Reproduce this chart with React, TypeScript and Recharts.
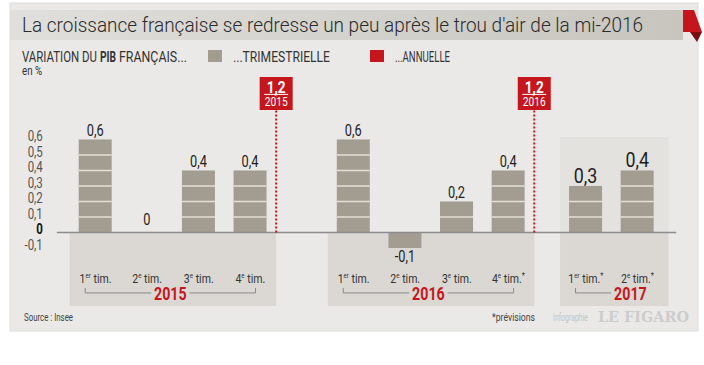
import React from 'react';
import { BarChart, Bar, XAxis, YAxis, ReferenceLine, ReferenceArea, LabelList } from 'recharts';

// ---------- data ----------
const YEARS = ['2015', '2016', '2017'];
const QUARTER_NUMS = [['1', '2', '3', '4'], ['1', '2', '3', '4'], ['1', '2']];
const QUARTERLY_GROWTH = [[0.6, 0, 0.4, 0.4], [0.6, -0.1, 0.2, 0.4], [0.3, 0.4]];
const FORECAST = [[false, false, false, false], [false, false, false, true], [true, true]];
const ANNUAL_YEARS = ['2015', '2016'];
const ANNUAL_GROWTH = [1.2, 1.2];
const Y_TICKS = [-0.1, 0, 0.1, 0.2, 0.3, 0.4, 0.5, 0.6];

// ---------- layout / style ----------
const YEAR_START = [0, 10, 19];
const STEP = 2;
const REGION_PAD_RIGHT = [1, 1, 1.2];
const YEAR_LABEL_ANCHOR = ['middle', 'middle', 'end'];
const BRACKET_RIGHT = [0.2, 0.2, 0.36];
const FONT = "Roboto,'Liberation Sans',sans-serif";
const RED = '#c5161d';
const BAR = '#a39d91';
const STRIPE = '#e4e0d7';
const PANEL = '#eae9e7';
const REGION = '#dbd8d4';
const REGION_TOP = '#e3e2df';

const fmt = (v: number) => String(v).replace('.', ',');

type Row = { pos: number; value: number; year: string; yi: number; q: string; forecast: boolean };
const table: Row[] = [];
YEARS.forEach((yr, yi) => {
  QUARTERLY_GROWTH[yi].forEach((v, qi) => {
    table.push({ pos: YEAR_START[yi] + qi * STEP, value: v, year: yr, yi, q: QUARTER_NUMS[yi][qi], forecast: FORECAST[yi][qi] });
  });
});
const yearFirst = (yi: number) => YEAR_START[yi];
const yearLast = (yi: number) => YEAR_START[yi] + (QUARTERLY_GROWTH[yi].length - 1) * STEP;

// condensed text helper
const CT = ({ x, y, sx = 0.8, anchor = 'start', children, ...rest }: any) => (
  <text transform={`translate(${x},${y}) scale(${sx},1)`} textAnchor={anchor} fontFamily={FONT} {...rest}>
    {children}
  </text>
);

const StripedBar = (props: any) => {
  const { x, y, width, height, payload } = props;
  const top = Math.min(y, y + height);
  const h = Math.abs(height);
  const v = payload.value;
  const n = Math.round(Math.abs(v) * 10);
  const lines: any[] = [];
  if (v > 0) {
    for (let i = 1; i < n; i++) {
      const ly = top + h - (h / n) * i;
      lines.push(<line key={i} x1={x} x2={x + width} y1={ly} y2={ly} stroke={STRIPE} strokeWidth={1.6} />);
    }
  }
  return (
    <g>
      <rect x={x} y={top} width={width} height={h} fill={BAR} />
      {lines}
    </g>
  );
};

const ValueLabel = (props: any) => {
  const vb = props.viewBox || props;
  const { x, y, width, height } = vb;
  const row = table[props.index];
  if (!row) return null;
  const big = row.yi === 2;
  const cx = x + width / 2;
  const top = Math.min(y, y + height);
  const bottom = Math.max(y, y + height);
  const ly = row.value < 0 ? bottom + 14 : top - (row.value === 0 ? 7 : 3);
  return (
    <CT x={cx} y={ly} sx={big ? 0.85 : 0.8} anchor="middle" fontSize={big ? 21 : 16} fill="#1e1e1e">
      {fmt(row.value)}
    </CT>
  );
};

const QuarterTick = (props: any) => {
  const { x, y, payload } = props;
  const row = table.find((r) => r.pos === payload.value);
  if (!row) return null;
  return (
    <CT x={x} y={y - 27} sx={0.78} anchor="middle" fontSize={13.5} fill="#333">
      <tspan>{row.q}</tspan>
      <tspan fontSize={8} dy={-5}>{row.q === '1' ? 'er' : 'e'}</tspan>
      <tspan dy={5}>{' tim.'}</tspan>
      {row.forecast ? <tspan fontSize={9.5} dy={-4}>*</tspan> : null}
    </CT>
  );
};

const YTick = (props: any) => {
  const { x, y, payload } = props;
  const v = payload.value;
  return (
    <CT x={x} y={y + 2} sx={0.82} anchor="end" fontSize={14}
      fill={v === 0 ? '#111' : '#555'} fontWeight={v === 0 ? 700 : 400}>
      {fmt(v)}
    </CT>
  );
};

const annualMarker = (p: any, i: number) => {
  const vb = p.viewBox || p;
  const x = vb.x;
  const y = vb.y;
  return (
    <g>
      <rect x={x - 16.5} y={y - 33} width={33} height={33} fill={RED} />
      <CT x={x} y={y - 17.5} sx={0.8} anchor="middle" fontWeight={700} fontSize={17} fill="#fff">
        {fmt(ANNUAL_GROWTH[i])}
      </CT>
      <line x1={x - 12} x2={x + 12} y1={y - 15.6} y2={y - 15.6} stroke="#fff" strokeWidth={1} />
      <CT x={x} y={y - 4} sx={0.85} anchor="middle" fontSize={12} fill="#fff">
        {ANNUAL_YEARS[i]}
      </CT>
    </g>
  );
};

const yearLabel = (p: any, yi: number) => {
  const vb = p.viewBox || p;
  const anchor = YEAR_LABEL_ANCHOR[yi];
  const tx = anchor === 'end' ? vb.x + vb.width : vb.x + vb.width / 2;
  return (
    <CT x={tx} y={vb.y + 7.5} sx={0.75} anchor={anchor} fontWeight={700} fontSize={19}
      fill={RED} stroke={REGION} strokeWidth={9} paintOrder="stroke">
      {YEARS[yi]}
    </CT>
  );
};

const Y_BOTTOM = -0.475;
const BRACKET_Y = -0.39;
const BRACKET_TICK = -0.358;

export default function App() {
  return (
    <div style={{ position: 'relative', width: 704, height: 365, background: '#fff', overflow: 'hidden' }}>
      <style>{`body{margin:0}`}</style>
      <svg width={704} height={365} style={{ position: 'absolute', left: 0, top: 0 }}>
        <defs>
          <linearGradient id="band" x1="0" x2="1" y1="0" y2="0">
            <stop offset="0" stopColor="#e0dfdb" />
            <stop offset="1" stopColor="#c7c5be" />
          </linearGradient>
        </defs>
        <rect x={10} y={3} width={688} height={328} fill={PANEL} stroke="#dedede" />
        <rect x={10} y={10} width={673} height={30} fill="url(#band)" />
        <polygon points="683,10 694,10 702,32 683,32" fill={RED} />
        <polygon points="690,32 702,32 697,42" fill="#7c0d12" />
        <text x={22} y={32} fontFamily={FONT} fontWeight={300} fontSize={20.5} fill="#2a2a2a" textLength={621} lengthAdjust="spacingAndGlyphs">
          La croissance française se redresse un peu après le trou d'air de la mi-2016
        </text>
        <text x={22} y={62} fontFamily={FONT} fontSize={14.5} fill="#333" textLength={75} lengthAdjust="spacingAndGlyphs">VARIATION DU</text>
        <text x={100} y={62} fontFamily={FONT} fontWeight={700} fontSize={14.5} fill="#333" textLength={16} lengthAdjust="spacingAndGlyphs">PIB</text>
        <text x={119} y={62} fontFamily={FONT} fontSize={14.5} fill="#333" textLength={68} lengthAdjust="spacingAndGlyphs">FRANÇAIS...</text>
        <rect x={208} y={50} width={14} height={12} fill={BAR} />
        <text x={233} y={62} fontFamily={FONT} fontSize={14.5} fill="#333" textLength={97} lengthAdjust="spacingAndGlyphs">...TRIMESTRIELLE</text>
        <rect x={370} y={50} width={14} height={12} fill={RED} />
        <text x={395} y={62} fontFamily={FONT} fontSize={14.5} fill="#333" textLength={55} lengthAdjust="spacingAndGlyphs">...ANNUELLE</text>
        <text x={22} y={75} fontFamily={FONT} fontSize={12} fill="#333" textLength={20} lengthAdjust="spacingAndGlyphs">en %</text>
        <text x={24} y={321} fontFamily={FONT} fontSize={11} fill="#444" textLength={49} lengthAdjust="spacingAndGlyphs">Source : Insee</text>
        <text x={492} y={321} fontFamily={FONT} fontSize={11} fill="#444" textLength={43} lengthAdjust="spacingAndGlyphs">*prévisions</text>
        <text x={553} y={321} fontFamily={FONT} fontSize={11} fill="#c4c4c4" textLength={35} lengthAdjust="spacingAndGlyphs">Infographie</text>
        <text x={598} y={322} fontFamily="'DejaVu Serif','Liberation Serif',serif" fontWeight={700} fontSize={15} fill="#cdcdcd" textLength={91} lengthAdjust="spacingAndGlyphs">LE FIGARO</text>
      </svg>
      <div style={{ position: 'absolute', left: 0, top: 0 }}>
        <BarChart width={704} height={365} data={table} margin={{ top: 110, right: 27.8, bottom: 25, left: 16.8 }} barSize={33}>
          {YEARS.map((yr, yi) => (
            <ReferenceArea key={'r' + yr} x1={yearFirst(yi) - 1} x2={yearLast(yi) + REGION_PAD_RIGHT[yi]}
              y1={Y_BOTTOM} y2={0} fill={REGION} fillOpacity={1} stroke="none" ifOverflow="visible" />
          ))}
          <ReferenceArea x1={yearFirst(2) - 1} x2={yearLast(2) + REGION_PAD_RIGHT[2]} y1={0} y2={0.616}
            fill={REGION_TOP} fillOpacity={1} stroke="none" ifOverflow="visible" />
          <XAxis type="number" dataKey="pos" domain={[-1.5, 22.5]} ticks={table.map((r) => r.pos)} interval={0}
            tick={<QuarterTick />} axisLine={false} tickLine={false} tickSize={0} tickMargin={0} height={30} allowDataOverflow />
          <YAxis domain={[-0.5, 0.79]} ticks={Y_TICKS} interval={0} tick={<YTick />} axisLine={false} tickLine={false}
            tickSize={0} tickMargin={14} width={40} allowDataOverflow />
          <Bar dataKey="value" shape={<StripedBar />} isAnimationActive={false}>
            <LabelList dataKey="value" content={<ValueLabel />} />
          </Bar>
          <ReferenceLine y={0} stroke="#8c8c8c" strokeWidth={1.5} />
          {ANNUAL_YEARS.map((yr, i) => {
            const yi = YEARS.indexOf(yr);
            const px = yearLast(yi) + 1;
            return (
              <ReferenceLine key={'a' + yr} segment={[{ x: px, y: 0 }, { x: px, y: 0.79 }]} stroke={RED}
                strokeWidth={2} strokeDasharray="2 2" ifOverflow="visible" label={(p: any) => annualMarker(p, i)} />
            );
          })}
          {YEARS.map((yr, yi) => {
            const left = yearFirst(yi) - 0.4;
            const right = yearLast(yi) + BRACKET_RIGHT[yi];
            return (
              <ReferenceLine key={'b' + yr} segment={[{ x: left, y: BRACKET_Y }, { x: right, y: BRACKET_Y }]}
                stroke="#8a8a8a" strokeWidth={1} ifOverflow="visible" label={(p: any) => yearLabel(p, yi)} />
            );
          })}
          {YEARS.map((yr, yi) => (
            <ReferenceLine key={'tl' + yr} segment={[{ x: yearFirst(yi) - 0.4, y: BRACKET_Y }, { x: yearFirst(yi) - 0.4, y: BRACKET_TICK }]}
              stroke="#8a8a8a" strokeWidth={1} ifOverflow="visible" />
          ))}
          {YEARS.filter((_, yi) => YEAR_LABEL_ANCHOR[yi] === 'middle').map((yr) => {
            const yi = YEARS.indexOf(yr);
            const r = yearLast(yi) + BRACKET_RIGHT[yi];
            return (
              <ReferenceLine key={'tr' + yr} segment={[{ x: r, y: BRACKET_Y }, { x: r, y: BRACKET_TICK }]}
                stroke="#8a8a8a" strokeWidth={1} ifOverflow="visible" />
            );
          })}
        </BarChart>
      </div>
    </div>
  );
}
